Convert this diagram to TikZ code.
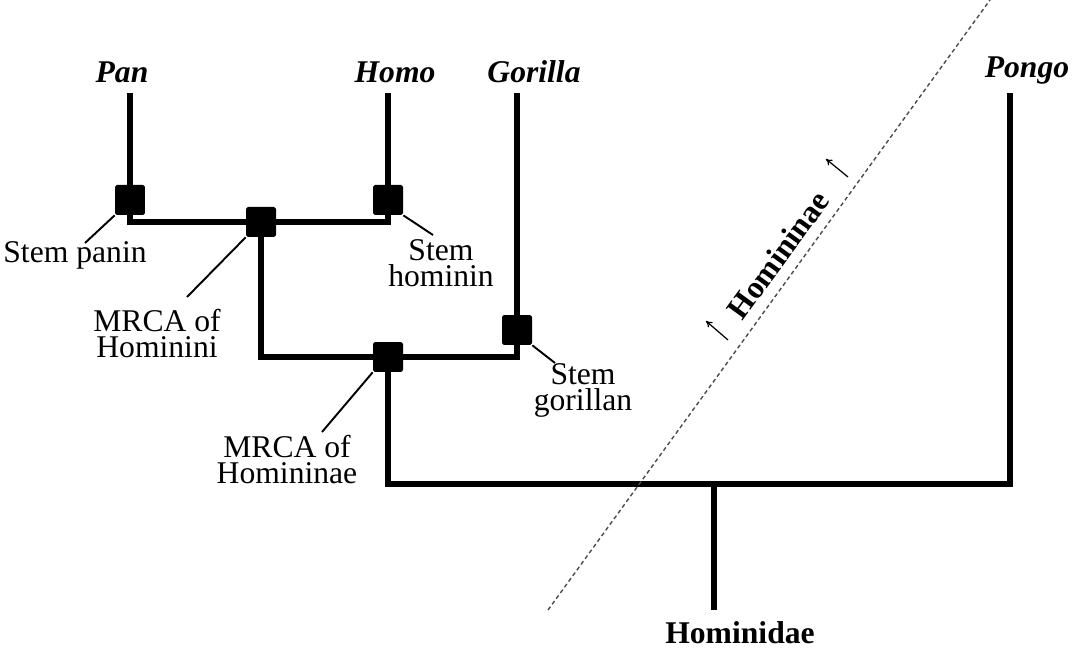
\documentclass[tikz,border=0pt]{standalone}
\usepackage{fontspec}
\setmainfont{Liberation Serif}
\usetikzlibrary{arrows.meta}

\tikzset{branch/.style = {line width=3.4pt, line join=miter},
         leader/.style = {line width=1.1pt},
         stembox/.style = {fill, minimum size=0.6cm, inner sep=0pt, rounded corners=1pt},
         taxon/.style = {font=\fontsize{18}{15}\selectfont\bfseries\itshape, anchor=base},
         lbl/.style = {font=\fontsize{18}{14.8}\selectfont, align=center, inner sep=0pt},
         split/.style = {line width=0.8pt, black!70, dash pattern=on 2.3pt off 1.7pt},
         side/.style = {-{To[length=3.5pt, width=4pt]}, line width=0.7pt}
        }

\begin{document}
\begin{tikzpicture}[x=0.02cm, y=-0.02cm]
\useasboundingbox (0,0) rectangle (1072,648);
% taxa
\node[taxon] at (122,83) (pan) {Pan};
\node[taxon] at (395,83) (homo) {Homo};
\node[taxon] at (534,83) (gor) {Gorilla};
\node[taxon] at (1027,78) (pon) {Pongo};
\node[taxon, font=\fontsize{18}{15}\selectfont\bfseries] at (740,643) (hmd) {Hominidae};
% tips
\coordinate (tpan) at (130,93);
\coordinate (thom) at (388,93);
\coordinate (tgor) at (517,93);
\coordinate (tpon) at (1010,93);
\coordinate (root) at (714,484);
\coordinate (thmd) at (714,610);
% stems and ancestors
\node[stembox] at (130,200) (spn) {};
\node[stembox] at (388,200) (shm) {};
\node[stembox] at (261,222) (mhi) {};
\node[stembox] at (517,330) (sgo) {};
\node[stembox] at (388,357) (mhe) {};
\draw[branch] (tpan) |- (mhi.center) -| (thom);
\draw[branch] (mhi.center) |- (mhe.center) -| (tgor);
\draw[branch] (mhe.center) |- (root) -| (tpon);
\draw[branch] (root) -- (thmd);
% labels
\node[lbl] at (75,255) (lspn) {Stem panin};
\node[lbl] at (157,334) (lmhi) {MRCA of\\Hominini};
\node[lbl] at (441,263) (lshm) {Stem\\hominin};
\node[lbl] at (583,390) (lsgo) {Stem\\gorillan};
\node[lbl] at (287,460) (lmhe) {MRCA of\\Homininae};
\coordinate (espn) at (85,243);
\coordinate (emhi) at (187,297);
\coordinate (eshm) at (433,235);
\coordinate (esgo) at (555,363);
\coordinate (emhe) at (322,432);
\draw[leader] (spn.south west) -- (espn);
\draw[leader] (mhi.south west) -- (emhi);
\draw[leader] (shm.south east) -- (eshm);
\draw[leader] (sgo.south east) -- (esgo);
\draw[leader] (mhe.south west) -- (emhe);
% Homininae split
\coordinate (dlo) at (548,610);
\coordinate (dhi) at (990,0);
\draw[split] (dlo) -- (dhi);
\node[rotate=54, font=\fontsize{18}{15}\selectfont\bfseries] at (778,255) (hmn) {Homininae};
\coordinate (a1s) at (728,340);
\coordinate (a1e) at (706,321);
\coordinate (a2s) at (848,177);
\coordinate (a2e) at (826,159);
\draw[side] (a1s) -- (a1e);
\draw[side] (a2s) -- (a2e);
\end{tikzpicture}
\end{document}
